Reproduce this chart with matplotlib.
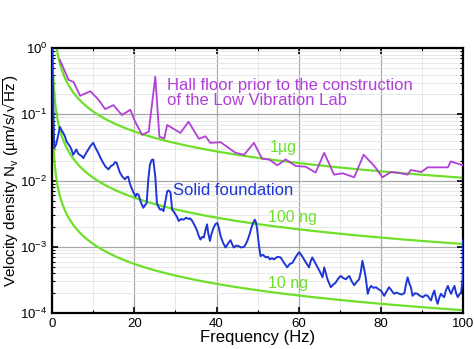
import numpy as np
import matplotlib
matplotlib.use("Agg")
from matplotlib import pyplot as plt
from matplotlib.ticker import LogLocator, MultipleLocator, NullFormatter

plt.rcParams['font.family'] = ['Liberation Sans', 'DejaVu Sans']
plt.rcParams['mathtext.fontset'] = 'dejavusans'

# hall floor before the lab was built (coarse spectrum), log10 of N_v
hall_f = [1.9, 4.0, 5.2, 6.8, 9.3, 11.3, 12.9, 14.9, 17.0, 19.0, 20.2, 21.9, 23.5,
          25.1, 26.1, 27.3, 28.0, 31.2, 33.2, 35.7, 37.3, 38.5, 41.0, 44.6, 46.7,
          49.1, 51.1, 52.8, 54.8, 56.8, 59.3, 61.7, 64.1, 66.2, 68.6, 70.7, 73.5,
          75.8, 78.4, 80.4, 82.4, 84.1, 86.5, 87.3, 89.8, 91.4, 96.3, 97.0, 100.0]
hall_log = [-0.18, -0.48, -0.51, -0.72, -0.65, -0.78, -0.92, -0.86, -1.01, -0.93, -1.11,
            -1.31, -1.26, -0.43, -1.34, -1.36, -1.16, -1.28, -1.11, -1.37, -1.33, -1.43,
            -1.42, -1.58, -1.61, -1.43, -1.67, -1.68, -1.77, -1.68, -1.78, -1.79, -1.88,
            -1.58, -1.91, -1.89, -1.95, -1.61, -1.78, -1.95, -1.87, -1.88, -1.91, -1.84,
            -1.87, -1.80, -1.80, -1.71, -1.77]

# solid foundation, (frequency, log10 of N_v)
solid_pts = [
    (0.1, -0.02), (0.3, -0.9), (0.5, -1.51), (1.0, -1.45), (1.9, -1.19), (2.3, -1.24),
    (2.7, -1.28), (3.1, -1.33), (3.5, -1.41), (4.3, -1.48), (4.7, -1.53), (5.1, -1.61),
    (5.5, -1.57), (5.9, -1.53), (6.3, -1.59), (6.7, -1.61), (7.2, -1.63), (7.6, -1.66),
    (8.2, -1.59), (8.8, -1.53), (9.4, -1.47), (10.0, -1.43), (10.6, -1.51), (11.2, -1.58),
    (11.8, -1.66), (12.4, -1.73), (13.0, -1.79), (13.7, -1.83), (14.3, -1.78), (14.9, -1.76),
    (15.3, -1.72), (15.7, -1.73), (16.1, -1.81), (16.5, -1.88), (17.1, -1.94), (17.7, -1.98),
    (18.1, -1.95), (18.5, -1.94), (18.9, -2.04), (19.3, -2.11), (19.8, -2.18), (20.3, -2.24),
    (20.6, -2.20), (21.0, -2.21), (21.6, -2.33), (22.2, -2.41), (22.6, -2.37), (23.0, -2.34),
    (23.4, -1.98), (23.8, -1.76), (24.2, -1.69), (24.6, -1.68), (25.1, -1.94), (25.5, -2.34),
    (25.9, -2.40), (26.3, -2.44), (26.7, -2.43), (27.1, -2.46), (27.6, -2.30), (28.0, -2.16),
    (28.4, -2.15), (28.8, -2.18), (29.2, -2.44), (29.6, -2.47), (30.0, -2.51), (30.4, -2.55),
    (30.8, -2.61), (31.4, -2.58), (32.0, -2.59), (32.6, -2.56), (33.2, -2.58), (33.6, -2.57),
    (34.1, -2.61), (34.7, -2.68), (35.3, -2.76), (35.7, -2.84), (36.1, -2.89), (36.5, -2.85),
    (36.9, -2.86), (37.3, -2.75), (37.7, -2.66), (38.0, -2.80), (38.4, -2.91), (38.8, -2.80),
    (39.3, -2.71), (39.7, -2.66), (40.2, -2.64), (40.6, -2.72), (41.0, -2.84), (41.6, -2.94),
    (42.2, -3.01), (42.8, -2.95), (43.4, -2.90), (43.8, -2.96), (44.2, -3.01), (44.8, -2.98),
    (45.4, -2.99), (46.0, -3.01), (46.7, -3.00), (47.1, -2.96), (47.5, -2.91), (48.0, -2.82),
    (48.5, -2.71), (48.9, -2.64), (49.3, -2.59), (49.6, -2.63), (49.9, -2.74), (50.3, -2.97),
    (50.7, -3.14), (51.3, -3.12), (52.0, -3.16), (52.5, -3.15), (53.0, -3.19), (53.5, -3.17),
    (54.0, -3.19), (54.8, -3.15), (55.6, -3.16), (56.4, -3.24), (57.2, -3.31), (57.8, -3.26),
    (58.5, -3.24), (59.3, -3.15), (60.1, -3.08), (60.7, -3.13), (61.3, -3.19), (61.9, -3.25),
    (62.5, -3.31), (62.9, -3.22), (63.3, -3.16), (64.0, -3.24), (64.6, -3.31), (65.2, -3.38),
    (65.8, -3.46), (66.2, -3.31), (66.6, -3.40), (67.0, -3.49), (67.4, -3.55), (67.8, -3.61),
    (68.4, -3.57), (69.0, -3.54), (69.6, -3.48), (70.2, -3.44), (70.8, -3.47), (71.5, -3.49),
    (71.9, -3.46), (72.3, -3.44), (72.9, -3.52), (73.5, -3.58), (74.1, -3.53), (74.7, -3.49),
    (75.1, -3.38), (75.5, -3.21), (75.9, -3.33), (76.3, -3.46), (76.8, -3.71), (77.2, -3.63),
    (77.6, -3.59), (78.2, -3.62), (78.8, -3.61), (79.4, -3.64), (80.0, -3.66), (80.4, -3.70),
    (80.8, -3.74), (81.4, -3.67), (82.0, -3.61), (82.6, -3.66), (83.2, -3.71), (83.8, -3.69),
    (84.5, -3.71), (85.1, -3.72), (85.7, -3.70), (86.1, -3.57), (86.5, -3.46), (86.9, -3.55),
    (87.3, -3.61), (87.7, -3.74), (88.3, -3.70), (88.9, -3.71), (89.5, -3.74), (90.2, -3.76),
    (90.8, -3.73), (91.4, -3.74), (91.8, -3.78), (92.2, -3.81), (92.6, -3.72), (93.0, -3.66),
    (93.4, -3.78), (93.8, -3.86), (94.2, -3.77), (94.6, -3.71), (95.0, -3.74), (95.4, -3.76),
    (95.8, -3.66), (96.3, -3.59), (96.7, -3.66), (97.1, -3.71), (97.5, -3.64), (97.9, -3.59),
    (98.3, -3.70), (98.7, -3.76), (99.1, -3.72), (99.5, -3.69), (99.9, -3.49), (100.0, -2.9),
]
solid_f = [p[0] for p in solid_pts]
solid_log = [p[1] for p in solid_pts]

# acceleration noise levels (in ug) shown as velocity curves
accel_ug = [1.0, 0.1, 0.01]
accel_labels = ['1\u00b5g', '100 ng', '10 ng']

purple = '#b140d8'
blue = '#1e36d6'
green = '#6ee02a'

fig = plt.figure(figsize=(4.74, 3.49), dpi=100)
ax = fig.add_axes([0.11, 0.103, 0.867, 0.759])

f = np.linspace(0.3, 100, 2000)
for a in accel_ug:
    ax.plot(f, a * 9.81 / (2 * np.pi * f * np.sqrt(2)), color=green, lw=1.6, zorder=2)

ax.plot(hall_f, 10 ** np.array(hall_log), color=purple, lw=1.3, zorder=3)
ax.plot(solid_f, 10 ** np.array(solid_log), color=blue, lw=1.4, zorder=4)

ax.set_yscale('log')
ax.set_xlim(0, 100)
ax.set_ylim(1e-4, 1)
ax.xaxis.set_major_locator(MultipleLocator(20))
ax.xaxis.set_minor_locator(MultipleLocator(10))
ax.yaxis.set_major_locator(LogLocator(base=10, numticks=10))
ax.yaxis.set_minor_locator(LogLocator(base=10, subs=np.arange(2, 10), numticks=10))
ax.yaxis.set_minor_formatter(NullFormatter())
ax.grid(True, which='major', color='#a8a8a8', lw=0.9)
ax.grid(True, which='minor', color='#e4e4e4', lw=0.6)
ax.tick_params(which='both', direction='in', top=True, right=True, labelsize=9.5)
ax.tick_params(which='major', length=4, width=1.2)
ax.tick_params(which='minor', length=2, width=0.8)
for s in ax.spines.values():
    s.set_linewidth(1.6)

ax.set_xlabel('Frequency (Hz)', fontsize=12, labelpad=0)
ax.set_ylabel(r'Velocity density N$_\mathregular{v}$ (µm/s/$\sqrt{\mathregular{Hz}}$)',
              fontsize=11)
ax.yaxis.set_label_coords(-0.076, 0.5)

ax.text(28, 0.21, 'Hall floor prior to the construction\nof the Low Vibration Lab',
        color=purple, fontsize=12, va='center', ha='left', linespacing=1.05)
ax.text(53, 0.032, accel_labels[0], color=green, fontsize=11.5, va='center')
ax.text(29.5, 0.0072, 'Solid foundation', color=blue, fontsize=12, va='center')
ax.text(52.5, 0.0028, accel_labels[1], color=green, fontsize=11.5, va='center')
ax.text(52.5, 2.8e-4, accel_labels[2], color=green, fontsize=11.5, va='center')

fig.savefig('out.png', dpi=100)
